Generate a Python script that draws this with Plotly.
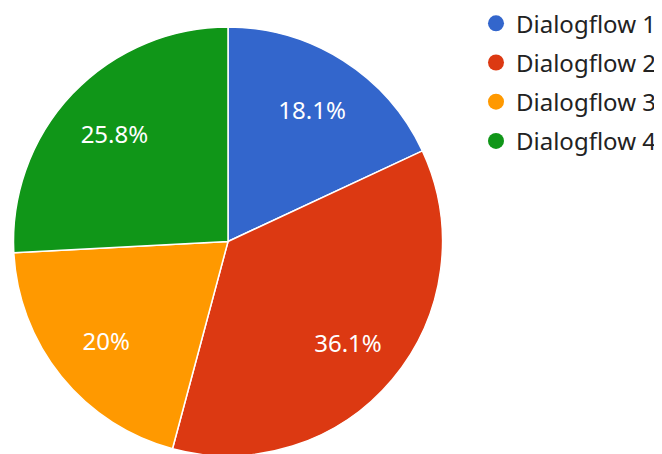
import plotly.graph_objects as go

labels = ["Dialogflow 1", "Dialogflow 2", "Dialogflow 3", "Dialogflow 4"]
values = [65, 130, 72, 93]
colors = ["#3366CC", "#DC3912", "#FF9900", "#109618"]

W, H = 662, 454
dom = dict(x=[0, 440 / W], y=[6 / H, 435 / H])
fig = go.Figure()
# coloured slices
fig.add_trace(go.Pie(
    labels=labels, values=values, sort=False, direction="clockwise", rotation=0,
    marker=dict(colors=colors, line=dict(color="white", width=1.5)),
    textinfo="none", domain=dom, showlegend=False, hoverinfo="label+percent",
))
# transparent ring carrying the percentage labels at a fixed radius
fig.add_trace(go.Pie(
    labels=labels, values=values, sort=False, direction="clockwise", rotation=0,
    hole=0.46, marker=dict(colors=["rgba(0,0,0,0)"] * len(labels), line=dict(width=0)),
    textinfo="percent", textposition="inside", insidetextorientation="horizontal",
    textfont=dict(color="white", size=24, family="Noto Sans"),
    domain=dom, showlegend=False, hoverinfo="skip",
))
for i, (lab, col) in enumerate(zip(labels, colors)):
    fig.add_trace(go.Scatter(
        x=[None], y=[None], mode="markers", name=lab, legendgroup=f"g{i}",
        marker=dict(symbol="circle", size=25, color=col), showlegend=True,
    ))
fig.update_layout(
    width=W, height=H, margin=dict(l=0, r=0, t=0, b=0, autoexpand=False),
    paper_bgcolor="white", plot_bgcolor="white",
    font=dict(family="Noto Sans", color="#222222", size=24),
    xaxis=dict(visible=False), yaxis=dict(visible=False),
    legend=dict(x=468 / W, y=1.015, xanchor="left", yanchor="top",
                font=dict(size=24, family="Noto Sans", color="#222222"),
                entrywidth=160, entrywidthmode="pixels",
                itemsizing="trace", tracegroupgap=5, bgcolor="rgba(0,0,0,0)"),
)
fig.write_html("out.html")
